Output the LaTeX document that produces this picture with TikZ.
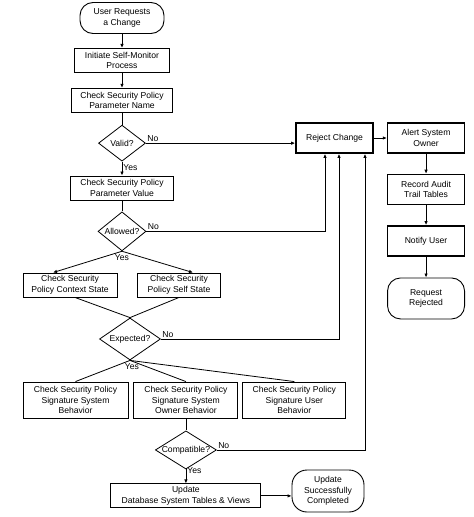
\documentclass[tikz,border=0pt]{standalone}
\usepackage{fontspec}
\setmainfont{Liberation Sans}
\usetikzlibrary{arrows.meta, positioning, shapes.geometric}
\colorlet{colTrazo}{black}
\tikzset{
  cajaBase/.style={
    draw=colTrazo, line width=0.9pt,
    minimum height=24pt, inner sep=1pt,
    align=center, font=\fontsize{8.6}{10.5}\selectfont, fill=white
  },
  cajaProceso/.style={cajaBase},
  cajaTerminal/.style={cajaBase, rounded corners=13pt},
  cajaRechazo/.style={cajaBase, line width=1.7pt, minimum width=77pt, minimum height=30pt},
  cajaLateral/.style={cajaBase, line width=1.4pt, minimum width=77pt, minimum height=30pt},
  rombo/.style={diamond, draw=colTrazo, line width=0.8pt, inner sep=0pt,
    align=center, font=\fontsize{8.6}{10}\selectfont, fill=white},
  flecha/.style={-{Latex[length=4pt, width=3.5pt]}, line width=0.8pt, colTrazo},
  linea/.style={line width=0.8pt, colTrazo},
  etiquetaFlecha/.style={font=\fontsize{8.6}{9}\selectfont, inner sep=1pt},
}
\begin{document}
\begin{tikzpicture}[x=1pt, y=-1pt]
    \useasboundingbox (0,0) rectangle (474,517);
    % columna principal
    \node[cajaTerminal, minimum width=84pt, minimum height=31pt] (inicio) at (122,18) {User Requests\\a Change};
    \node[cajaProceso, minimum width=95pt, below=14pt of inicio] (iniciar) {Initiate Self-Monitor\\Process};
    \node[cajaProceso, minimum width=101pt, below=15pt of iniciar] (nombre) {Check Security Policy\\Parameter Name};
    \node[rombo, aspect=1.3, minimum width=47pt, minimum height=36pt, below=12pt of nombre] (valido) {Valid?};
    \node[cajaProceso, minimum width=103pt, below=14pt of valido] (valor) {Check Security Policy\\Parameter Value};
    \node[rombo, aspect=1.25, minimum width=48pt, minimum height=39pt, below=11pt of valor] (permitido) {Allowed?};
    \node[cajaProceso, minimum width=94pt] (contexto) at (70,285) {Check Security\\Policy Context State};
    \node[cajaProceso, minimum width=83pt] (propio) at (179,285) {Check Security\\Policy Self State};
    \node[rombo, aspect=1.45, minimum width=61pt, minimum height=42pt] (esperado) at (130,339) {Expected?};
    \node[cajaProceso, minimum width=105pt, minimum height=36pt] (firmaSistema) at (75.5,400) {Check Security Policy\\Signature System\\Behavior};
    \node[cajaProceso, minimum width=104pt, minimum height=36pt, right=5pt of firmaSistema] (firmaDueno) {Check Security Policy\\Signature System\\Owner Behavior};
    \node[cajaProceso, minimum width=103pt, minimum height=36pt, right=4pt of firmaDueno] (firmaUsuario) {Check Security Policy\\Signature User\\Behavior};
    \node[rombo, aspect=1.6, minimum width=61pt, minimum height=38pt, below=12pt of firmaDueno] (compatible) {Compatible?};
    \node[cajaProceso, minimum width=150pt, below=14pt of compatible] (actualizar) {Update\\Database System Tables \& Views};
    \node[cajaTerminal, minimum width=72pt, minimum height=42pt, rounded corners=15pt] (completado) at (328,491) {Update\\Successfully\\Completed};
    % columna de rechazo
    \node[cajaRechazo] (rechazo) at (334.5,138) {Reject Change};
    \node[cajaLateral, right=13pt of rechazo] (alerta) {Alert System\\Owner};
    \node[cajaLateral, below=20pt of alerta] (auditoria) {Record Audit\\Trail Tables};
    \node[cajaLateral, below=20pt of auditoria] (notificar) {Notify User};
    \node[cajaTerminal, minimum width=77pt, minimum height=41pt, below=21pt of notificar] (rechazada) {Request\\Rejected};

    \draw[flecha] (inicio) -- (iniciar);
    \draw[flecha] (iniciar) -- (nombre);
    \draw[linea] (nombre) -- (valido);
    \draw[flecha] (valido) -- node[pos=0.4, right, etiquetaFlecha]{Yes} (valor);
    \draw[linea] (valor) -- (permitido);
    \draw[flecha] (permitido.south) -- ([xshift=-17pt]contexto.north);
    \draw[flecha] (permitido.south) -- ([xshift=14pt]propio.north);
    \node[etiquetaFlecha, below=2pt of permitido.south] (siPermitido) {Yes};
    \draw[linea] ([xshift=5pt]contexto.south) -- (esperado.north);
    \draw[linea] (propio.south) -- (esperado.north);
    \draw[linea] (esperado.south) -- (firmaSistema.north);
    \draw[linea] (esperado.south) -- (firmaDueno.north);
    \draw[linea] (esperado.south) -- (firmaUsuario.north);
    \node[etiquetaFlecha, below=2pt of esperado.south, xshift=2pt] (siEsperado) {Yes};
    \draw[linea] (firmaDueno) -- (compatible);
    \draw[flecha] (compatible) -- node[pos=0.1, right, etiquetaFlecha]{Yes} (actualizar);
    \draw[flecha] (actualizar.east) -- (actualizar.east -| completado.west);

    % ramas de rechazo
    \draw[flecha] (valido.east) -- node[pos=0, above right, etiquetaFlecha]{No} (valido.east -| rechazo.west);
    \draw[flecha] (permitido.east) -| node[pos=0, above right, etiquetaFlecha]{No} ([xshift=-9.5pt]rechazo.south);
    \draw[flecha] (esperado.east) -| node[pos=0, above right, etiquetaFlecha]{No} ([xshift=4.5pt]rechazo.south);
    \draw[flecha] (compatible.east) -| node[pos=0, above right, etiquetaFlecha]{No} ([xshift=30.5pt]rechazo.south);
    \draw[flecha] (rechazo) -- (alerta);
    \draw[flecha] (alerta) -- (auditoria);
    \draw[flecha] (auditoria) -- (notificar);
    \draw[flecha] (notificar) -- (rechazada);
  \end{tikzpicture}
\end{document}
